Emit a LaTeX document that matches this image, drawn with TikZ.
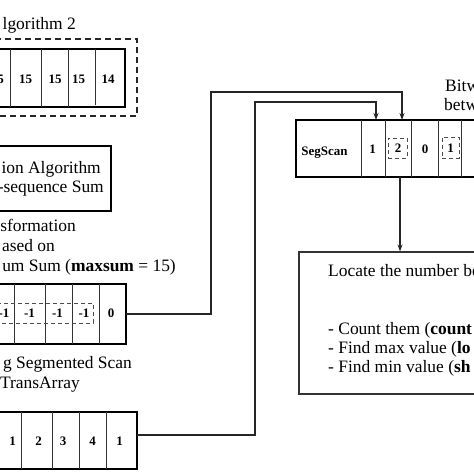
\documentclass[tikz,border=0pt]{standalone}
\usepackage{fontspec}
\setmainfont{Liberation Serif}
\usetikzlibrary{arrows.meta}
\begin{document}
\begin{tikzpicture}[x=1bp,y=-1bp,
  txt/.style={inner sep=0pt,font=\fontsize{17.5}{20}\selectfont},
  cellnum/.style={inner sep=0pt,font=\fontsize{13}{15}\selectfont\bfseries},
  arrbox/.style={draw=black,line width=2bp,inner sep=0pt,outer sep=0pt},
  divline/.style={draw=black!80,line width=0.9bp},
  conn/.style={draw=black!85,line width=1.1bp},
  arr/.style={conn,-{Stealth[length=7bp,width=5bp]}},
  bigdash/.style={draw=black!85,line width=1.8bp,dash pattern=on 6bp off 4bp,inner sep=0pt,outer sep=0pt},
  smalldash/.style={draw=black!70,line width=0.9bp,dash pattern=on 4bp off 3bp,inner sep=0pt,outer sep=0pt},
]
\useasboundingbox (0,0) rectangle (474,474);
\clip (0,0) rectangle (474,474);

% ---------- top: Algorithm 2 output ----------
\node[txt,anchor=base east] (t1) at (76,30) {lgorithm 2};
\node[bigdash,minimum width=147bp,minimum height=77bp] (dash1) at (63.5,77.5) {};
\node[arrbox,minimum width=145bp,minimum height=58bp] (row1) at (52.5,78) {};
\draw[divline] (10,49) -- (10,107);
\draw[divline] (41,49) -- (41,107);
\draw[divline] (68,49) -- (68,107);
\draw[divline] (95,49) -- (95,105);
\node[cellnum] (r1a) at (-2.5,79) {15};
\node[cellnum] (r1b) at (25.5,79) {15};
\node[cellnum] (r1c) at (55,79) {15};
\node[cellnum] (r1d) at (78.5,79) {15};
\node[cellnum] (r1e) at (108,79) {14};

% ---------- box 2 ----------
\node[arrbox,minimum width=131bp,minimum height=65bp] (box2) at (45.5,178.5) {};
\node[txt,anchor=base east] (b2a) at (101,174) {ion Algorithm};
\node[txt,anchor=base east] (b2b) at (104,193) {-sequence Sum};

% ---------- transformation text ----------
\node[txt,anchor=base east] (t3a) at (76,232) {sformation};
\node[txt,anchor=base east] (t3b) at (55,251) {ased on};
\node[txt,anchor=base east] (t3c) at (176,271) {um Sum (\textbf{maxsum} = 15)};

% ---------- row 3 ----------
\node[arrbox,minimum width=146bp,minimum height=60bp] (row3) at (53,314) {};
\draw[divline] (14,284) -- (14,344);
\draw[divline] (45,284) -- (45,344);
\draw[divline] (72,284) -- (72,344);
\draw[divline] (99,284) -- (99,344);
\node[smalldash,minimum width=98bp,minimum height=20bp] (dash3) at (44,313) {};
\node[cellnum] (r3a) at (4,313) {-1};
\node[cellnum] (r3b) at (29.5,313) {-1};
\node[cellnum] (r3c) at (57.5,313) {-1};
\node[cellnum] (r3d) at (84,313) {-1};
\node[cellnum] (r3e) at (111,313) {0};

% ---------- segmented scan text ----------
\node[txt,anchor=base east] (t4a) at (132,368) {g Segmented Scan};
\node[txt,anchor=base east] (t4b) at (80,388) {TransArray};

% ---------- row 4 ----------
\node[arrbox,minimum width=157bp,minimum height=57bp] (row4) at (58.5,440.5) {};
\draw[divline] (21,412) -- (21,469);
\draw[divline] (52,412) -- (52,469);
\draw[divline] (79,412) -- (79,469);
\draw[divline] (106,412) -- (106,469);
\node[cellnum] (r4a) at (12.5,441) {1};
\node[cellnum] (r4b) at (38.5,441) {2};
\node[cellnum] (r4c) at (63,441) {3};
\node[cellnum] (r4d) at (92.5,441) {4};
\node[cellnum] (r4e) at (119.5,441) {1};

% ---------- SegScan row ----------
\node[txt,anchor=base west] (bw1) at (445,92) {Bitw};
\node[txt,anchor=base west] (bw2) at (444,111) {betw};
\node[arrbox,minimum width=204bp,minimum height=57bp] (seg) at (398,148.5) {};
\draw[divline] (361,120) -- (361,177);
\draw[divline] (385,120) -- (385,177);
\draw[divline] (411,120) -- (411,177);
\draw[divline] (438,120) -- (438,177);
\draw[divline] (461,120) -- (461,177);
\node[cellnum,anchor=base] (segl) at (324.5,156) {SegScan};
\node[cellnum] (s1) at (372.5,149) {1};
\node[smalldash,minimum width=19bp,minimum height=20bp] (ds1) at (397.5,148) {};
\node[cellnum] (s2) at (398,148) {2};
\node[cellnum] (s3) at (425,149) {0};
\node[smalldash,minimum width=17bp,minimum height=21bp] (ds2) at (450.5,147.5) {};
\node[cellnum] (s4) at (450.5,148) {1};
\coordinate (segInA) at (376,120);
\coordinate (segInB) at (402,120);
\coordinate (segOut) at (400,177);

% ---------- result box ----------
\node[draw=black!80,line width=1.2bp,inner sep=0pt,minimum width=221bp,minimum height=142bp] (res) at (409.5,323) {};
\node[txt,anchor=base west] (l1) at (328,276) {Locate the number be};
\node[txt,anchor=base west] (l2) at (328,334) {- Count them (\textbf{count}};
\node[txt,anchor=base west] (l3) at (328,353) {- Find max value (\textbf{lo}};
\node[txt,anchor=base west] (l4) at (328,372) {- Find min value (\textbf{sh}};

% ---------- connectors ----------
\draw[arr] (row3.east) -| (211,92) -| (segInB);
\draw[arr] ([yshift=5.5bp]row4.east) -| (255,102) -| (segInA);
\draw[arr] (segOut) -- (segOut |- res.north);
\end{tikzpicture}
\end{document}
